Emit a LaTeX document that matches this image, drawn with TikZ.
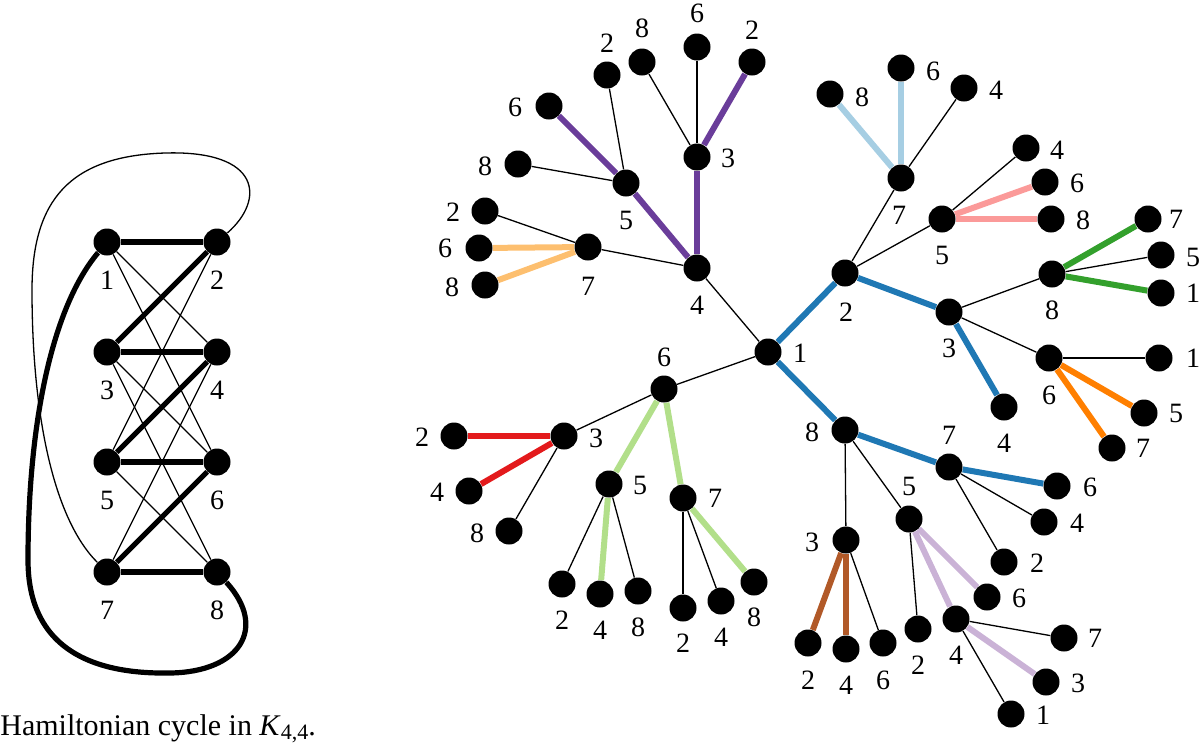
\documentclass[tikz,border=0pt]{standalone}
\usepackage{fontspec}
\setmainfont{Liberation Serif}
\definecolor{cPurple}{HTML}{6A3D9A}
\definecolor{cLOrange}{HTML}{FDBF6F}
\definecolor{cLBlue}{HTML}{A6CEE3}
\definecolor{cPink}{HTML}{FB9A99}
\definecolor{cGreen}{HTML}{33A02C}
\definecolor{cOrange}{HTML}{FF7F00}
\definecolor{cBlue}{HTML}{1F78B4}
\definecolor{cBrown}{HTML}{B15928}
\definecolor{cLPurple}{HTML}{CAB2D6}
\definecolor{cRed}{HTML}{E31A1C}
\definecolor{cLGreen}{HTML}{B2DF8A}
\tikzset{
  dot/.style={circle,fill=black,inner sep=0pt,minimum size=13.5pt},
  lab/.style={inner sep=0pt,font=\fontsize{14}{14}\selectfont},
  thin edge/.style={line width=0.65pt},
  thick edge/.style={line width=2.6pt},
  col edge/.style={line width=3pt},
}
\begin{document}
\begin{tikzpicture}[x=0.5pt,y=-0.5pt]
\useasboundingbox (0,0) rectangle (1200,752);
% ---------- left: K_{4,4} ----------
\foreach \n/\x/\y in {1/107/242,2/217/242,3/107/352,4/217/352,5/107/462,6/217/462,7/107/572,8/217/572}{
  \node[dot] (k\n) at (\x,\y) {};
  \node[lab] (kl\n) at (\x,\y+38) {\n};
}
\foreach \a/\b in {1/4,1/6,3/6,3/8,5/2,5/8,7/4}{\draw[thin edge] (k\a) -- (k\b);}
\foreach \a/\b in {1/2,2/3,3/4,4/5,5/6,6/7,7/8}{\draw[thick edge] (k\a) -- (k\b);}
\draw[thick edge] (k1) .. controls (50,310) and (28,430) .. (28,560)
  .. controls (28,660) and (110,674) .. (170,673)
  .. controls (240,672) and (268,628) .. (k8);
\draw[thin edge] (k2) .. controls (265,200) and (262,150) .. (165,153)
  .. controls (70,156) and (32,200) .. (32,290)
  .. controls (32,420) and (55,520) .. (k7);
\node[anchor=base west,inner sep=0pt,font=\fontsize{15}{15}\selectfont] (cap) at (0,735)
  {Hamiltonian cycle in \textit{K}\raisebox{-0.35ex}{\fontsize{11}{11}\selectfont 4,4}.};
% ---------- right: tree ----------
\foreach \n/\x/\y/\lx/\ly/\t in {
  r/768/352/800/353/1,
  a/697/268/697/305/4,
  b/845/273/846/312/2,
  c/845/430/812/432/8,
  d/664/389/664/357/6,
  a3/697/157/728/158/3,
  a32/752/62/752/30/2,
  a36/697/47/697/13/6,
  a38/642/62/642/28/8,
  a5/626/183/626/220/5,
  a56/549/106/515/107/6,
  a52/607/75/607/43/2,
  a58/518/164/485/166/8,
  a7/588/247/588/286/7,
  a72/485/211/453/212/2,
  a76/479/248/445/248/6,
  a78/485/285/452/287/8,
  b7/901/178/899/215/7,
  b78/830/94/862/97/8,
  b76/901/68/933/71/6,
  b74/964/88/996/90/4,
  b5/942/219/942/255/5,
  b54/1026/148/1057/150/4,
  b56/1045/182/1077/183/6,
  b58/1051/219/1083/220/8,
  b3/949/312/949/348/3,
  b38/1052/274/1052/310/8,
  b387/1148/219/1176/219/7,
  b385/1161/255/1193/257/5,
  b381/1161/293/1193/293/1,
  b36/1049/358/1049/395/6,
  b361/1159/358/1193/358/1,
  b365/1144/413/1176/413/5,
  b367/1112/448/1143/448/7,
  b34/1004/407/1004/443/4,
  c7/949/467/949/435/7,
  c76/1057/486/1090/487/6,
  c74/1044/522/1077/523/4,
  c72/1004/562/1037/563/2,
  c5/909/519/909/486/5,
  c52/918/629/918/665/2,
  c56/987/597/1019/598/6,
  c54/956/619/956/655/4,
  c547/1064/638/1095/638/7,
  c543/1046/682/1078/683/3,
  c541/1011/714/1043/715/1,
  c3/846/540/812/542/3,
  c32/808/643/808/680/2,
  c34/846/649/846/685/4,
  c36/883/643/883/680/6,
  d3/564/436/596/438/3,
  d32/454/436/422/437/2,
  d34/469/491/437/492/4,
  d38/509/531/477/533/8,
  d5/609/484/640/485/5,
  d52/562/584/562/620/2,
  d54/600/594/600/630/4,
  d58/638/591/638/627/8,
  d7/683/498/715/498/7,
  d72/683/608/683/643/2,
  d74/721/601/721/637/4,
  d78/754/582/754/617/8}{
  \node[dot] (\n) at (\x,\y) {};
  \node[lab] (\n l) at (\lx,\ly) {\t};
}
% black edges
\foreach \a/\b in {r/a,r/d,a3/a36,a3/a38,a5/a52,a5/a58,a/a7,a7/a72,
  b/b7,b7/b74,b/b5,b5/b54,b3/b38,b38/b385,b3/b36,b36/b361,
  c7/c74,c7/c72,c/c5,c5/c52,c54/c547,c54/c541,c/c3,c3/c36,
  d/d3,d3/d38,d5/d52,d5/d58,d7/d72,d7/d74}{\draw[thin edge] (\a) -- (\b);}
% coloured edges
\foreach \a/\b/\c in {a/a3/cPurple,a3/a32/cPurple,a/a5/cPurple,a5/a56/cPurple,
  a7/a76/cLOrange,a7/a78/cLOrange,
  b7/b78/cLBlue,b7/b76/cLBlue,
  b5/b56/cPink,b5/b58/cPink,
  r/b/cBlue,b/b3/cBlue,b3/b34/cBlue,r/c/cBlue,c/c7/cBlue,c7/c76/cBlue,
  b38/b387/cGreen,b38/b381/cGreen,
  b36/b365/cOrange,b36/b367/cOrange,
  c5/c56/cLPurple,c5/c54/cLPurple,c54/c543/cLPurple,
  c3/c32/cBrown,c3/c34/cBrown,
  d3/d32/cRed,d3/d34/cRed,
  d/d5/cLGreen,d/d7/cLGreen,d5/d54/cLGreen,d7/d78/cLGreen}{
  \draw[col edge,draw=\c] (\a) -- (\b);}
\end{tikzpicture}
\end{document}
